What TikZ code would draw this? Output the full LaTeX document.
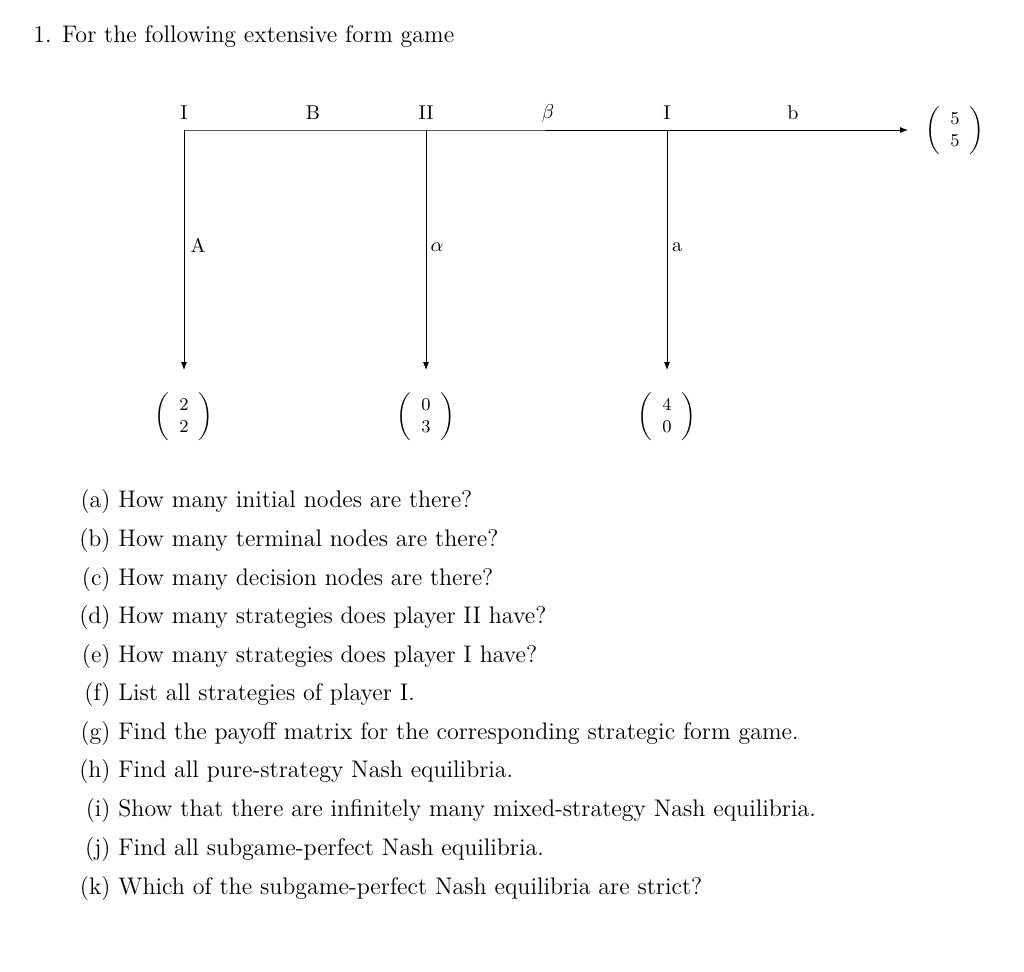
\documentclass[tikz,border=0pt]{standalone}
\usetikzlibrary{arrows.meta}
\begin{document}
\begin{tikzpicture}[x=0.5pt,y=-0.5pt,
  main/.style={font=\fontsize{12}{14}\selectfont, inner sep=0pt},
  lab/.style={font=\fontsize{10}{12}\selectfont, inner sep=0pt},
  pay/.style={font=\fontsize{9.5}{11}\selectfont, inner sep=0pt},
  edge/.style={line width=0.4pt, -{Latex[length=4pt,width=3pt]}},
  dot/.style={inner sep=0pt, minimum size=0pt}]
\useasboundingbox (0,0) rectangle (1024,971);
\node[main, anchor=base west] (title) at (33,42) {1. For the following extensive form game};
\node[dot] (n1) at (184,130) {};
\node[dot] (n2) at (426,130) {};
\node[dot] (n3) at (667,130) {};
\coordinate (e1) at (184,370);
\coordinate (e2) at (426,370);
\coordinate (e3) at (667,370);
\coordinate (e4) at (908,130);
\draw[line width=0.4pt] (n1.center) -- (n2.center) -- (n3.center);
\draw[edge] (n3.center) -- (e4);
\draw[edge] (n1.center) -- (e1);
\draw[edge] (n2.center) -- (e2);
\draw[edge] (n3.center) -- (e3);
\node[lab] (l1) at (184,113) {I};
\node[lab] (lB) at (313,113) {B};
\node[lab] (l2) at (426,113) {II};
\node[lab] (lbeta) at (548,113) {$\beta$};
\node[lab] (l3) at (667,113) {I};
\node[lab] (lb) at (793,113) {b};
\node[lab] (lA) at (198,245) {A};
\node[lab] (lal) at (437,247) {$\alpha$};
\node[lab] (la) at (677,247) {a};
\node[pay] (p1) at (184,417) {$\left(\begin{array}{c}2\\2\end{array}\right)$};
\node[pay] (p2) at (426,417) {$\left(\begin{array}{c}0\\3\end{array}\right)$};
\node[pay] (p3) at (667,417) {$\left(\begin{array}{c}4\\0\end{array}\right)$};
\node[pay] (p4) at (955,131) {$\left(\begin{array}{c}5\\5\end{array}\right)$};
\foreach \l/\t/\y [count=\i] in {
 (a)/How many initial nodes are there?/501,
 (b)/How many terminal nodes are there?/540,
 (c)/How many decision nodes are there?/579,
 (d)/How many strategies does player II have?/617,
 (e)/How many strategies does player I have?/656,
 (f)/List all strategies of player I./694,
 (g)/Find the payoff matrix for the corresponding strategic form game./733,
 (h)/Find all pure-strategy Nash equilibria./771,
 (i)/Show that there are infinitely many mixed-strategy Nash equilibria./810,
 (j)/Find all subgame-perfect Nash equilibria./849,
 (k)/Which of the subgame-perfect Nash equilibria are strict?/888}
{
 \node[main, anchor=base east] (q\i l) at (111,\y+6) {\l};
 \node[main, anchor=base west] (q\i) at (118,\y+6) {\t};
}
\end{tikzpicture}
\end{document}
